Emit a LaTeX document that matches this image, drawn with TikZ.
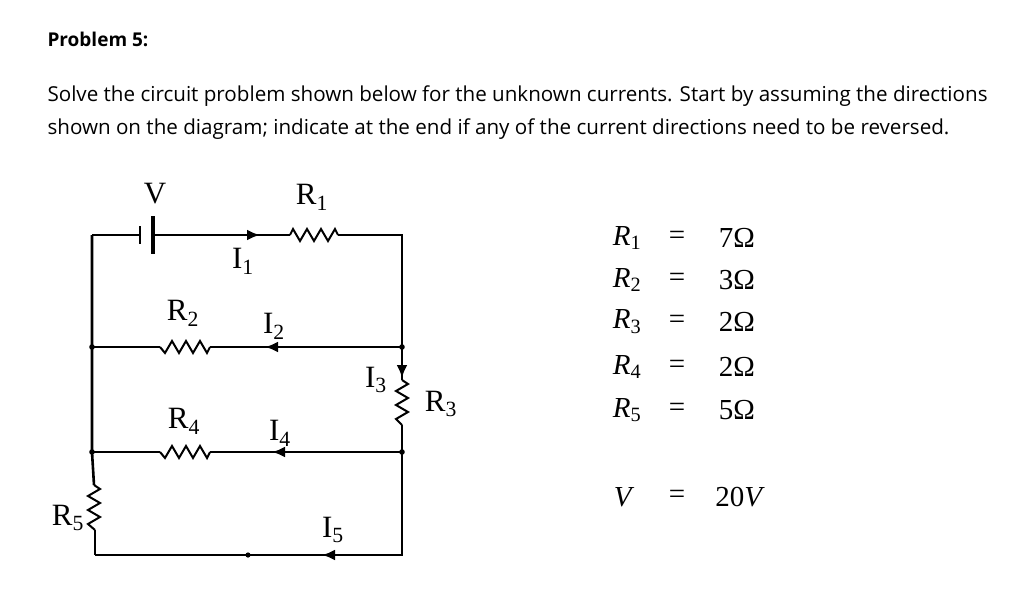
\documentclass[tikz,border=0pt]{standalone}
\usepackage{fontspec}
\setmainfont{Liberation Serif}
\newfontfamily\hd{Open Sans}
\usetikzlibrary{arrows.meta}
\begin{document}
\begin{tikzpicture}[x=1pt,y=-1pt,
  wire/.style={line width=2.6pt},
  zig/.style={line width=2pt},
  tip/.style={-{Latex[length=13pt,width=11pt]},line width=2.6pt},
  lab/.style={font=\fontsize{31}{31}\selectfont},
  hdt/.style={font=\hd\fontsize{20.6}{24}\selectfont,anchor=west},
  tb/.style={font=\fontsize{29}{29}\selectfont}]
\useasboundingbox (0,0) rectangle (1024,594);
\node[hdt,font=\hd\bfseries\fontsize{19}{22}\selectfont] (t1) at (44,39) {Problem 5:};
\node[hdt] (t2) at (44,96) {Solve the circuit problem shown below for the unknown currents. Start by assuming the directions};
\node[hdt] (t3) at (44,129) {shown on the diagram; indicate at the end if any of the current directions need to be reversed.};
\coordinate (TL) at (92,235); \coordinate (TR) at (402,235);
\coordinate (ML) at (92,347); \coordinate (MR) at (402,347);
\coordinate (LL) at (92,452); \coordinate (LR) at (402,452);
\coordinate (BL) at (95,555); \coordinate (BR) at (402,555);
\coordinate (b1) at (140,235); \coordinate (b2) at (153,235);
\draw[wire] (TL) -- (b1);
\draw[line width=2.6pt] (140,226) -- (140,244);
\draw[line width=3.2pt] (153,216) -- (153,254);
\draw[wire] (b2) -- (290,235);
\draw[tip] (230,235) -- (260,235);
\draw[zig] (290,235) -- (293,229) -- (300,241) -- (307,229) -- (314,241) -- (321,229) -- (328,241) -- (335,229) -- (338,235);
\draw[wire] (338,235) -- (TR) -- (MR);
\draw[wire] (MR) -- (210,347);
\draw[tip] (300,347) -- (265,347);
\draw[zig] (210,347) -- (207,353) -- (200,341) -- (193,353) -- (186,341) -- (179,353) -- (172,341) -- (165,353) -- (160,347);
\draw[wire] (160,347) -- (ML);
\draw[wire] (MR) -- (402,380);
\draw[tip] (402,350) -- (402,378);
\draw[zig] (402,380) -- (408,384) -- (396,391) -- (408,398) -- (396,405) -- (408,412) -- (396,419) -- (402,425);
\draw[wire] (402,425) -- (LR);
\draw[wire] (LR) -- (210,452);
\draw[tip] (310,452) -- (272,452);
\draw[zig] (210,452) -- (207,458) -- (200,446) -- (193,458) -- (186,446) -- (179,458) -- (172,446) -- (165,458) -- (160,452);
\draw[wire] (160,452) -- (LL);
\draw[wire] (TL) -- (LL) -- (94,485);
\draw[zig] (94,485) -- (100,489) -- (88,496) -- (100,503) -- (88,510) -- (100,517) -- (88,524) -- (95,530);
\draw[wire] (95,530) -- (BL);
\draw[wire] (LR) -- (BR) -- (BL);
\draw[tip] (360,555) -- (322,555);
\foreach \p in {ML,MR,LL,LR} \fill (\p) circle (2.8pt);
\fill (248,555) circle (2.6pt);
\node[lab] (lV) at (155,194) {V};
\node[lab] (lR1) at (312,197) {R\textsubscript{1}};
\node[lab] (lI1) at (243,261) {I\textsubscript{1}};
\node[lab] (lR2) at (183,313) {R\textsubscript{2}};
\node[lab] (lI2) at (274,326) {I\textsubscript{2}};
\node[lab] (lI3) at (376,380) {I\textsubscript{3}};
\node[lab] (lR3) at (441,404) {R\textsubscript{3}};
\node[lab] (lR4) at (184,421) {R\textsubscript{4}};
\node[lab] (lI4) at (280,433) {I\textsubscript{4}};
\node[lab] (lI5) at (333,530) {I\textsubscript{5}};
\node[lab] (lR5) at (68,518) {R\textsubscript{5}};
\foreach \i/\v/\y in {1/7/238,2/3/280,3/2/322,4/2/367,5/5/410}{
  \node[tb] at (627,\y) {\textit{R}\textsubscript{\i}};
  \node[tb] at (677,\y) {=};
  \node[tb] at (737,\y) {\v Ω};
}
\node[tb] (vV) at (624,497) {\textit{V}};
\node[tb] (vE) at (677,497) {=};
\node[tb] (vN) at (740,497) {20\textit{V}};
\end{tikzpicture}
\end{document}
